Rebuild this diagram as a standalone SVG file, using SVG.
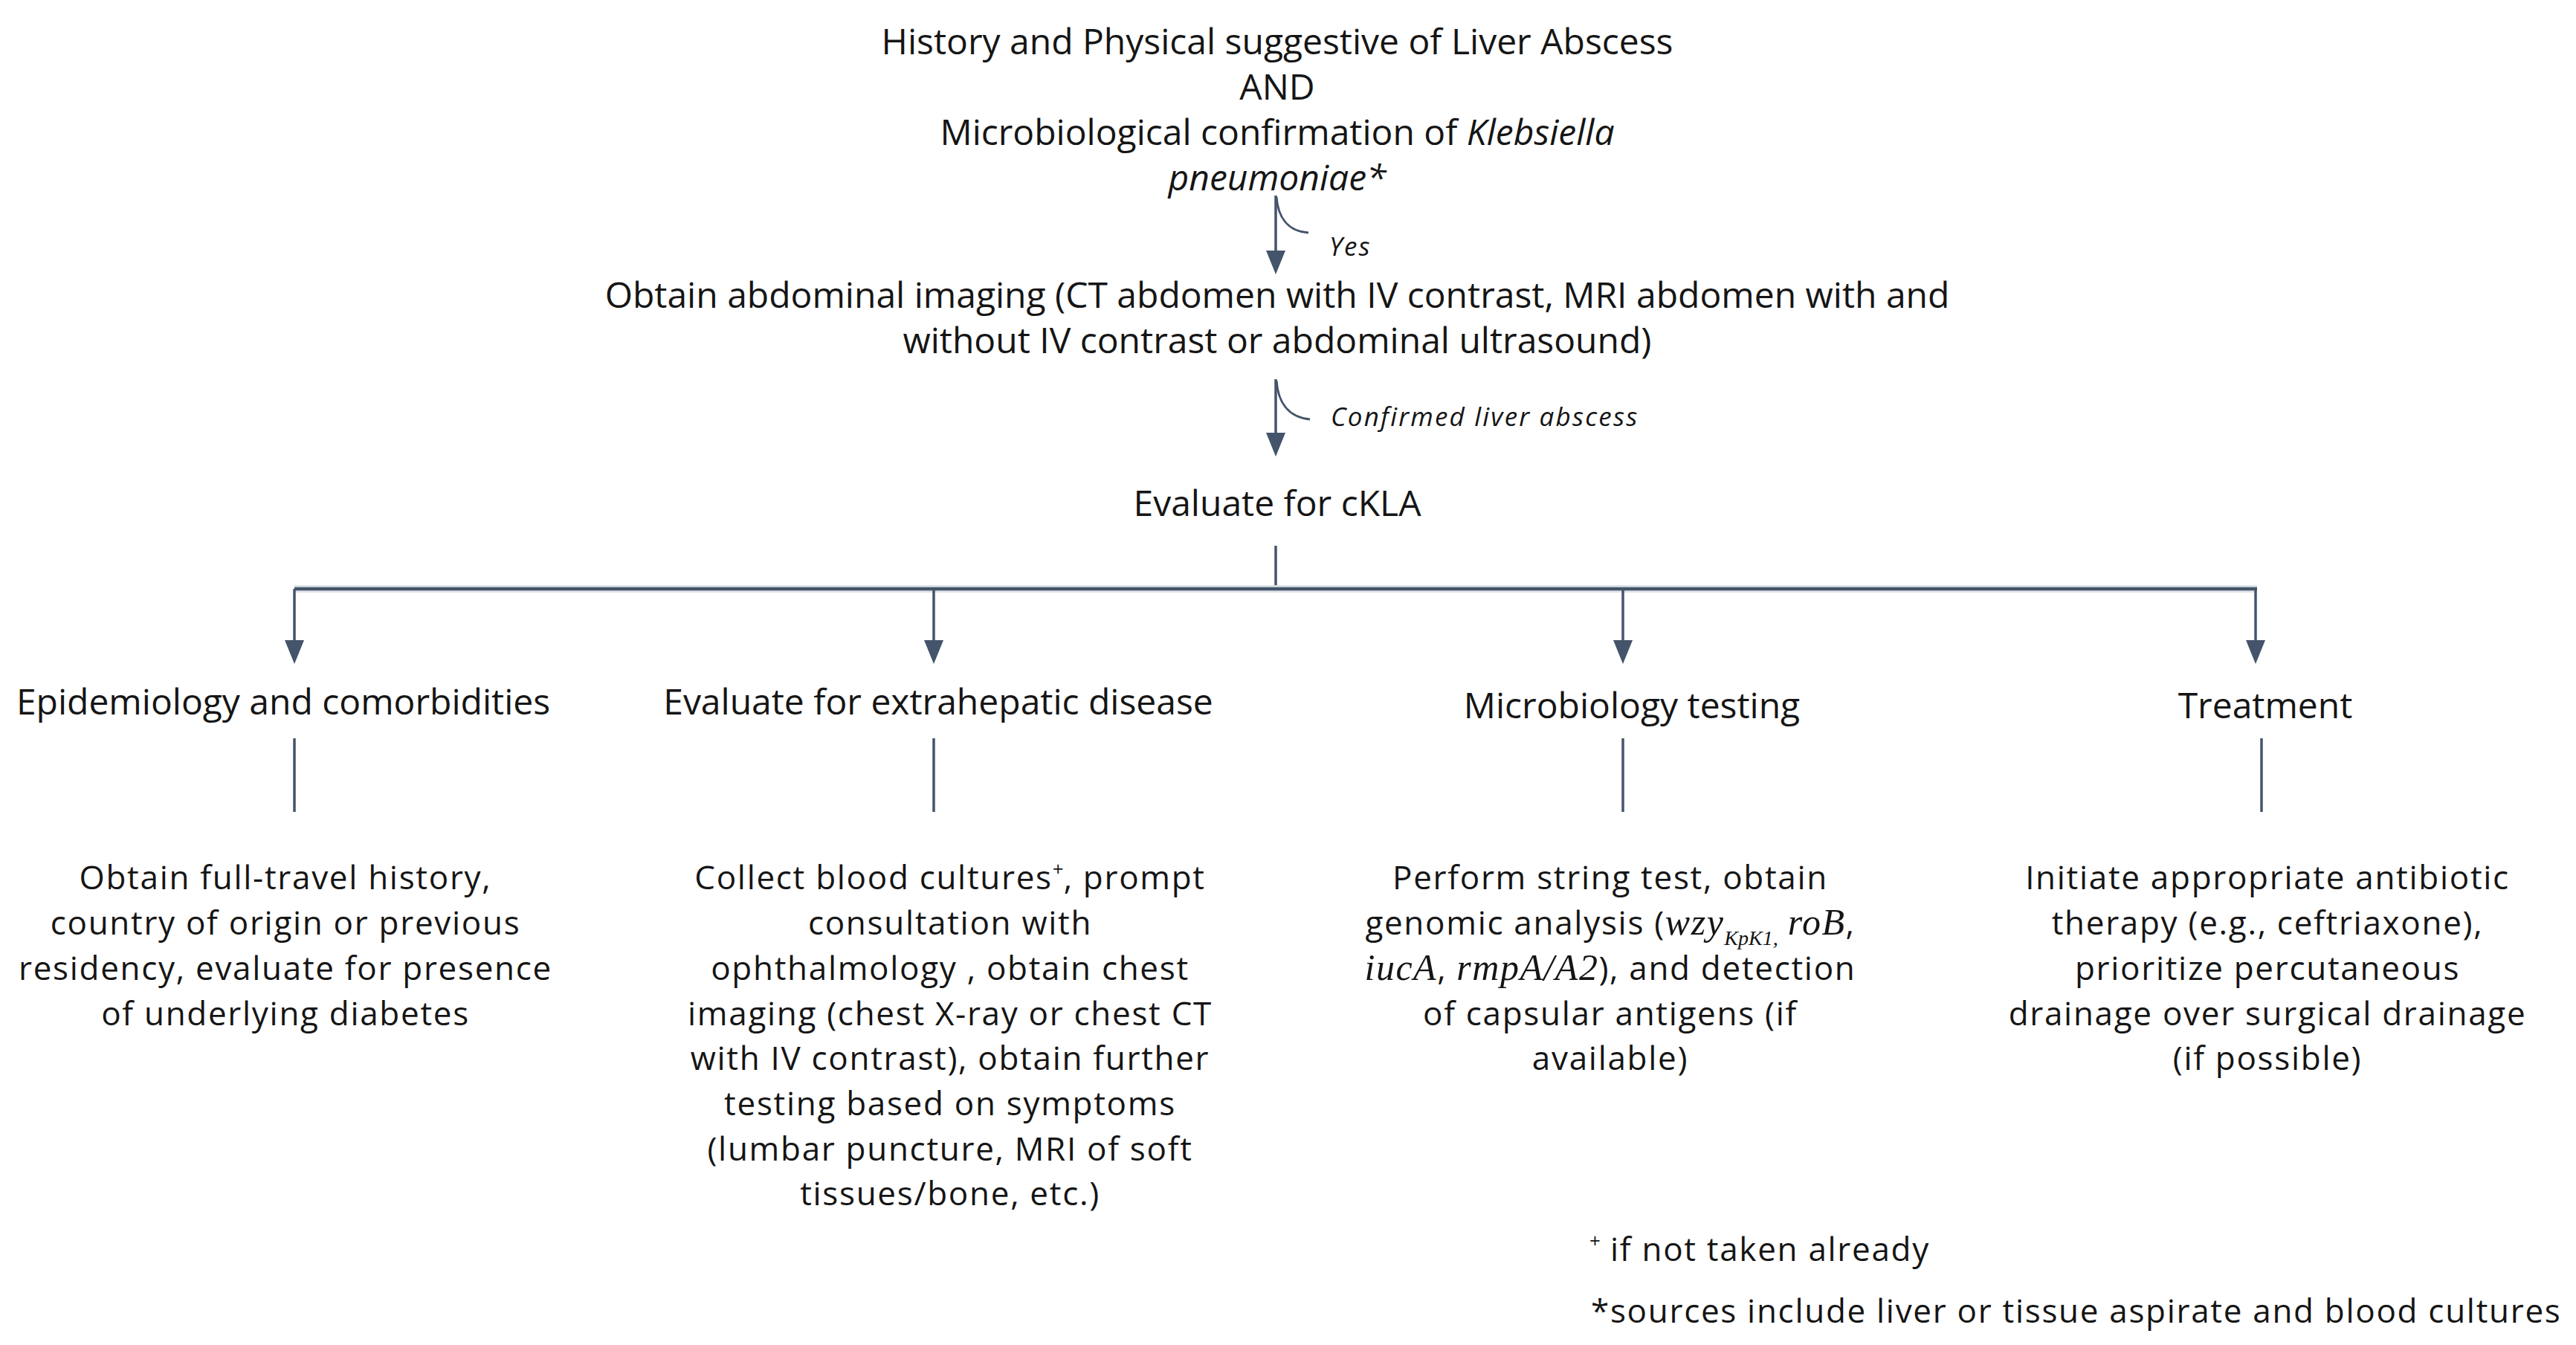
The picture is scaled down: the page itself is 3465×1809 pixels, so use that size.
<svg xmlns="http://www.w3.org/2000/svg" width="3465" height="1809" viewBox="0 0 3465 1809">
  <defs>
    <marker id="arrow" markerUnits="userSpaceOnUse" markerWidth="34" markerHeight="28" refX="24" refY="13" orient="auto">
      <path d="M0,0 L32,13 L0,26 z" fill="#44546a"/>
    </marker>
  </defs>
  <style>
    .t { font-family: "Open Sans", "Liberation Sans", sans-serif; fill: #151515; }
    .c { text-anchor: middle; }
    .top { font-size: 48px; }
    .lab { font-size: 48px; }
    .body { font-size: 44px; letter-spacing: 1.7px; }
    .edge { font-size: 35px; font-style: italic; letter-spacing: 2.2px; }
    .it { font-style: italic; }
    .gene { font-family: "Liberation Serif", "Times New Roman", serif; font-style: italic; letter-spacing: 1.5px; font-size: 50px; }
    .sub { font-family: "Liberation Serif", "Times New Roman", serif; font-style: italic; letter-spacing: 0px; font-size: 28px; }
    .sup { font-size: 26px; letter-spacing: 0px; }
    .line { stroke: #44546a; stroke-width: 3.5; fill: none; }
    .arr { stroke: #44546a; stroke-width: 3.5; fill: none; marker-end: url(#arrow); }
    .halo { stroke: #dde2e8; stroke-width: 10; fill: none; }
    .bar { stroke: #44546a; stroke-width: 4.5; fill: none; }
    .tick { stroke: #44546a; stroke-width: 3; fill: none; }
    .bg { fill: #ffffff; }
  </style>
  <rect class="bg" x="0" y="0" width="3465" height="1809"/>

  <g id="connectors">
    <line class="arr" x1="1716" y1="263" x2="1716" y2="361"/>
    <path class="tick" d="M1717,265 C1719,292 1732,311 1760,313"/>
    <line class="arr" x1="1716" y1="510" x2="1716" y2="606"/>
    <path class="tick" d="M1717,512 C1719,540 1732,561 1762,564"/>
    <line class="line" x1="1716" y1="734" x2="1716" y2="792"/>
    <line class="halo" x1="396" y1="792" x2="3036" y2="792"/>
    <line class="bar" x1="396" y1="792" x2="3036" y2="792"/>
    <line class="arr" x1="396" y1="792" x2="396" y2="885"/>
    <line class="arr" x1="1256" y1="792" x2="1256" y2="885"/>
    <line class="arr" x1="2183" y1="792" x2="2183" y2="885"/>
    <line class="arr" x1="3034" y1="792" x2="3034" y2="885"/>
    <line class="line" x1="396" y1="993" x2="396" y2="1092"/>
    <line class="line" x1="1256" y1="993" x2="1256" y2="1092"/>
    <line class="line" x1="2183" y1="993" x2="2183" y2="1092"/>
    <line class="line" x1="3042" y1="993" x2="3042" y2="1092"/>
  </g>

  <g id="edge-labels">
    <text class="t edge" x="1788" y="344">Yes</text>
    <text class="t edge" x="1790" y="573">Confirmed liver abscess</text>
  </g>

  <g id="node-start">
    <text class="t top c" x="1718" y="73">History and Physical suggestive of Liver Abscess</text>
    <text class="t top c" x="1718" y="134">AND</text>
    <text class="t top c" x="1718" y="195">Microbiological confirmation of <tspan class="it">Klebsiella</tspan></text>
    <text class="t top c it" x="1718" y="256">pneumoniae*</text>
  </g>

  <g id="node-imaging">
    <text class="t top c" x="1718" y="414">Obtain abdominal imaging (CT abdomen with IV contrast, MRI abdomen with and</text>
    <text class="t top c" x="1718" y="475">without IV contrast or abdominal ultrasound)</text>
  </g>

  <g id="node-evaluate">
    <text class="t top c" x="1718" y="694">Evaluate for cKLA</text>
  </g>

  <g id="node-epidemiology">
    <text class="t lab c" x="381" y="961">Epidemiology and comorbidities</text>
  </g>
  <g id="node-extrahepatic">
    <text class="t lab c" x="1262" y="961">Evaluate for extrahepatic disease</text>
  </g>
  <g id="node-microbiology">
    <text class="t lab c" x="2195" y="966">Microbiology testing</text>
  </g>
  <g id="node-treatment">
    <text class="t lab c" x="3047" y="966">Treatment</text>
  </g>

  <g id="node-epidemiology-detail">
    <text class="t body c" x="384" y="1196">Obtain full-travel history,</text>
    <text class="t body c" x="384" y="1257">country of origin or previous</text>
    <text class="t body c" x="384" y="1318">residency, evaluate for presence</text>
    <text class="t body c" x="384" y="1379">of underlying diabetes</text>
  </g>

  <g id="node-extrahepatic-detail">
    <text class="t body c" x="1278" y="1196">Collect blood cultures<tspan class="sup" dy="-18">+</tspan><tspan dy="18">, prompt</tspan></text>
    <text class="t body c" x="1278" y="1257">consultation with</text>
    <text class="t body c" x="1278" y="1318">ophthalmology , obtain chest</text>
    <text class="t body c" x="1278" y="1379">imaging (chest X-ray or chest CT</text>
    <text class="t body c" x="1278" y="1439">with IV contrast), obtain further</text>
    <text class="t body c" x="1278" y="1500">testing based on symptoms</text>
    <text class="t body c" x="1278" y="1561">(lumbar puncture, MRI of soft</text>
    <text class="t body c" x="1278" y="1621">tissues/bone, etc.)</text>
  </g>

  <g id="node-microbiology-detail">
    <text class="t body c" x="2166" y="1196">Perform string test, obtain</text>
    <text class="t body c" x="2166" y="1257">genomic analysis (<tspan class="gene">wzy</tspan><tspan class="sub" dy="14">KpK1,</tspan><tspan dy="-14"> </tspan><tspan class="gene">roB</tspan>,</text>
    <text class="t body c" x="2166" y="1318"><tspan class="gene">iucA</tspan>, <tspan class="gene">rmpA/A2</tspan>), and detection</text>
    <text class="t body c" x="2166" y="1379">of capsular antigens (if</text>
    <text class="t body c" x="2166" y="1439">available)</text>
  </g>

  <g id="node-treatment-detail">
    <text class="t body c" x="3050" y="1196">Initiate appropriate antibiotic</text>
    <text class="t body c" x="3050" y="1257">therapy (e.g., ceftriaxone),</text>
    <text class="t body c" x="3050" y="1318">prioritize percutaneous</text>
    <text class="t body c" x="3050" y="1379">drainage over surgical drainage</text>
    <text class="t body c" x="3050" y="1439">(if possible)</text>
  </g>

  <g id="footnotes">
    <text class="t body" x="2138" y="1696"><tspan class="sup" dy="-18">+</tspan><tspan dy="18"> if not taken already</tspan></text>
    <text class="t body" x="2140" y="1779">*sources include liver or tissue aspirate and blood cultures</text>
  </g>
</svg>
